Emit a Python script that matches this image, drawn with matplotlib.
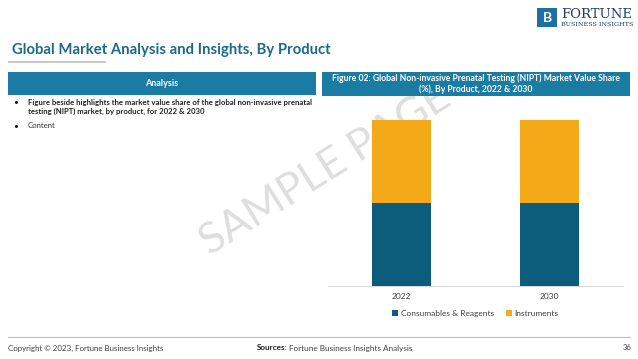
import matplotlib.pyplot as plt
from matplotlib.patches import Rectangle

plt.rcParams['font.family'] = ['Lato', 'DejaVu Sans']

# data
years = ["2022", "2030"]
consumables = [50, 50]
instruments = [50, 50]
series_names = ["Consumables & Reagents", "Instruments"]

c_teal = "#0b5d7b"
c_gold = "#f4aa18"
c_head = "#1b7ca3"
c_title = "#1b6a8c"

W, H = 638, 359
fig = plt.figure(figsize=(W / 100, H / 100), dpi=100)
fig.patch.set_facecolor("white")


def px(x, y):
    return x / W, 1 - y / H


# watermark
fig.text(*px(325, 170), "SAMPLE PAGE", fontsize=31, color="#dedede",
         rotation=32, ha="center", va="center", zorder=0)

# logo
fig.patches.append(Rectangle(px(537, 27), 20 / W, 19 / H, transform=fig.transFigure,
                             facecolor="#1d6fa5", edgecolor="none"))
fig.text(*px(547, 18), "B", fontsize=10, fontweight="bold", color="white",
         ha="center", va="center")
fig.text(*px(561, 15), "FORTUNE", fontsize=9.5, family="DejaVu Serif",
         color="#1f3d6b", ha="left", va="center")
fig.text(*px(561, 25), "BUSINESS INSIGHTS", fontsize=4.6, family="DejaVu Serif",
         color="#1f3d6b", ha="left", va="center")

# title
fig.text(*px(12, 50), "Global Market Analysis and Insights, By Product",
         fontsize=10.7, fontweight="bold", color=c_title, ha="left", va="center")
fig.patches.append(Rectangle(px(8, 63), 98 / W, 2.5 / H, transform=fig.transFigure,
                             facecolor="#c8c8c8", edgecolor="none"))

# header boxes
fig.patches.append(Rectangle(px(8, 95), 308 / W, 23 / H, transform=fig.transFigure,
                             facecolor=c_head, edgecolor="none"))
fig.text(*px(162, 84), "Analysis", fontsize=6.5, fontweight="bold", color="white",
         ha="center", va="center")
fig.patches.append(Rectangle(px(322, 96), 308 / W, 24 / H, transform=fig.transFigure,
                             facecolor=c_head, edgecolor="none"))
fig.text(*px(476, 84),
         "Figure 02: Global Non-invasive Prenatal Testing (NIPT) Market Value Share\n(%), By Product, 2022 & 2030",
         fontsize=6.2, fontweight="bold", color="white", ha="center", va="center",
         linespacing=1.2)

# bullets
fig.text(*px(13, 102), "•", fontsize=6, color="black", ha="left", va="center")
fig.text(*px(28, 102), "Figure beside highlights the market value share of the global non-invasive prenatal",
         fontsize=5.6, fontweight="bold", color="#222222", ha="left", va="center")
fig.text(*px(28, 111), "testing (NIPT) market, by product, for 2022 & 2030",
         fontsize=5.6, fontweight="bold", color="#222222", ha="left", va="center")
fig.text(*px(13, 126), "•", fontsize=6, color="black", ha="left", va="center")
fig.text(*px(28, 126), "Content", fontsize=5.6, color="#333333", ha="left", va="center")

# chart
ax = fig.add_axes([328 / W, 1 - 286 / H, 295 / W, 166 / H])
ax.set_zorder(2)
ax.patch.set_alpha(0)
x = range(len(years))
ax.bar(x, consumables, width=0.4, color=c_teal, label=series_names[0], zorder=3)
ax.bar(x, instruments, width=0.4, bottom=consumables, color=c_gold,
       label=series_names[1], zorder=3)
ax.set_xlim(-0.5, 1.5)
ax.set_ylim(0, 100)
ax.set_xticks(list(x))
ax.set_xticklabels(years, fontsize=6, color="#404040")
ax.tick_params(axis="x", length=0, pad=5)
ax.set_yticks([])
for s in ["top", "right", "left"]:
    ax.spines[s].set_visible(False)
ax.spines["bottom"].set_color("#d9d9d9")
ax.spines["bottom"].set_linewidth(0.8)
ax.legend(loc="upper center", bbox_to_anchor=(0.5, -0.1), ncol=2, frameon=False,
          fontsize=6, handlelength=0.7, handleheight=0.7, columnspacing=1.5,
          handletextpad=0.3, labelcolor="#404040")

# footer
fig.add_artist(plt.Line2D([8 / W, 630 / W], [1 - 337 / H, 1 - 337 / H],
                          color="#bfbfbf", linewidth=0.8))
fig.text(*px(8, 348), "Copyright © 2023, Fortune Business Insights", fontsize=5.7,
         color="#404040", ha="left", va="center")
fig.text(*px(257, 348), "Sources:", fontsize=5.9, fontweight="bold",
         color="#202020", ha="left", va="center")
fig.text(*px(289, 348), "Fortune Business Insights Analysis", fontsize=5.9,
         color="#404040", ha="left", va="center")
fig.text(*px(627, 348), "36", fontsize=5.5, color="#404040", ha="center", va="center")

fig.savefig("out.png", dpi=100)
